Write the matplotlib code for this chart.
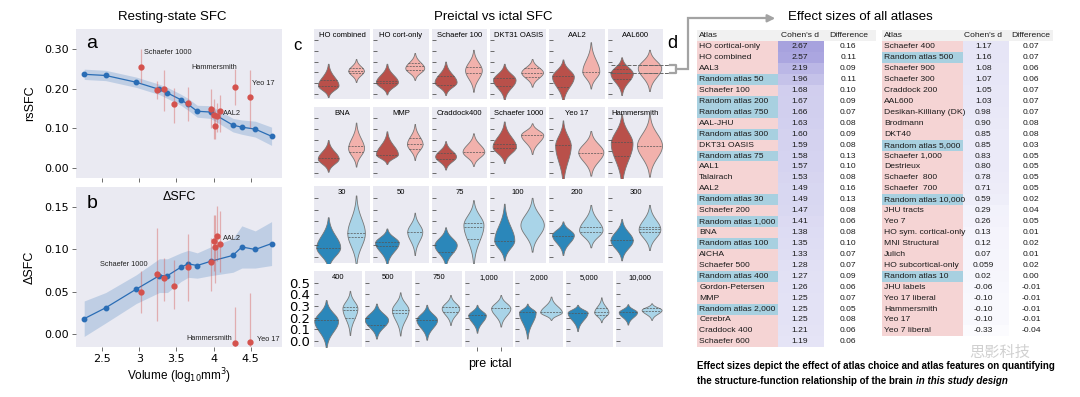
import numpy as np
import matplotlib
matplotlib.use("Agg")
import matplotlib.pyplot as plt
from matplotlib import font_manager
from matplotlib.colors import LinearSegmentedColormap, Normalize

plt.rcParams['font.family'] = ['Liberation Sans', 'DejaVu Sans']

# ---------------- data: panels a / b ----------------
vol_blue = [2.26, 2.55, 2.96, 3.27, 3.38, 3.56, 3.66, 3.78, 3.96, 4.26, 4.38, 4.56, 4.78]
rs_blue = [0.236, 0.233, 0.216, 0.198, 0.189, 0.172, 0.160, 0.143, 0.141, 0.108, 0.103, 0.098, 0.080]
rs_band = [0.013, 0.013, 0.013, 0.013, 0.014, 0.014, 0.015, 0.015, 0.016, 0.017, 0.018, 0.020, 0.023]
d_blue = [0.018, 0.031, 0.053, 0.069, 0.069, 0.079, 0.083, 0.081, 0.086, 0.093, 0.103, 0.100, 0.107]
d_band = [0.021, 0.018, 0.017, 0.020, 0.020, 0.017, 0.016, 0.015, 0.017, 0.020, 0.025, 0.022, 0.026]

vol_red = [3.02, 3.24, 3.33, 3.47, 3.66, 3.96, 4.01, 4.04, 4.02, 4.09, 4.29, 4.49]
rs_red = [0.254, 0.196, 0.198, 0.162, 0.165, 0.149, 0.133, 0.130, 0.105, 0.144, 0.205, 0.178]
rs_lo = [0.213, 0.173, 0.144, 0.114, 0.119, 0.100, 0.074, 0.090, 0.074, 0.091, 0.158, 0.100]
rs_hi = [0.299, 0.219, 0.247, 0.202, 0.203, 0.199, 0.175, 0.165, 0.146, 0.185, 0.249, 0.247]
d_red = [0.050, 0.071, 0.066, 0.057, 0.079, 0.085, 0.110, 0.116, 0.103, 0.106, -0.011, -0.009]
d_lo = [0.025, 0.015, 0.039, 0.029, 0.039, 0.051, 0.074, 0.086, 0.060, 0.073, -0.060, -0.060]
d_hi = [0.075, 0.126, 0.090, 0.088, 0.118, 0.114, 0.141, 0.152, 0.141, 0.146, 0.032, 0.049]

# ---------------- data: panel c (violin summaries) ----------------
vio_titles = ['HO combined', 'HO cort-only', 'Schaefer 100', 'DKT31 OASIS', 'AAL2', 'AAL600',
              'BNA', 'MMP', 'Craddock400', 'Schaefer 1000', 'Yeo 17', 'Hammersmith',
              '30', '50', '75', '100', '200', '300',
              '400', '500', '750', '1,000', '2,000', '5,000', '10,000']
pre_lo = [-0.03, -0.005, -0.01, -0.06, -0.08, -0.01,
          0.01, 0.08, 0.03, 0.09, -0.12, -0.12,
          -0.10, -0.07, -0.08, -0.03, 0.015, -0.03,
          -0.06, 0.02, 0.01, 0.07, 0.02, 0.085, 0.14]
pre_mode = [0.08, 0.11, 0.11, 0.13, 0.16, 0.19,
            0.13, 0.17, 0.15, 0.24, 0.25, 0.27,
            0.08, 0.12, 0.10, 0.14, 0.185, 0.14,
            0.17, 0.18, 0.18, 0.22, 0.245, 0.243, 0.246]
pre_hi = [0.28, 0.28, 0.30, 0.28, 0.32, 0.34,
          0.30, 0.38, 0.29, 0.47, 0.48, 0.54,
          0.335, 0.24, 0.25, 0.45, 0.30, 0.32,
          0.35, 0.32, 0.31, 0.31, 0.32, 0.31, 0.315]
pre_dens = [0.74, 0.79, 0.79, 0.81, 0.78, 0.80,
            0.75, 0.79, 0.75, 0.84, 0.56, 0.78,
            0.86, 0.85, 0.80, 0.72, 0.78, 0.80,
            1.00, 0.98, 0.87, 0.74, 0.70, 0.84, 0.77]
pre_lines = [[0.075, 0.13], [0.10, 0.12], [0.08, 0.165], [0.07, 0.145], [0.06, 0.17], [0.14, 0.19, 0.23],
             [0.133], [0.165], [0.13, 0.18], [0.225, 0.265], [0.255], [0.15, 0.28],
             [0.075], [0.09, 0.128], [0.043], [0.137], [0.18], [0.142],
             [0.177], [0.137], [0.18], [0.22], [0.245], [0.243], [0.246]]
ict_lo = [0.11, 0.13, 0.02, 0.067, 0.05, 0.027,
          0.057, 0.118, 0.063, 0.173, -0.026, -0.035,
          -0.08, 0.015, -0.07, 0.043, 0.08, 0.057,
          0.05, 0.046, 0.137, 0.123, 0.18, 0.16, 0.18]
ict_mode = [0.215, 0.24, 0.22, 0.20, 0.21, 0.24,
            0.225, 0.264, 0.194, 0.347, 0.19, 0.25,
            0.20, 0.213, 0.27, 0.27, 0.227, 0.233,
            0.28, 0.266, 0.28, 0.28, 0.246, 0.246, 0.266]
ict_hi = [0.325, 0.38, 0.41, 0.325, 0.48, 0.41,
          0.46, 0.447, 0.362, 0.454, 0.383, 0.53,
          0.52, 0.374, 0.48, 0.50, 0.44, 0.44,
          0.43, 0.417, 0.394, 0.394, 0.38, 0.374, 0.323]
ict_dens = [0.56, 0.68, 0.60, 0.78, 0.61, 0.84,
            0.57, 0.56, 0.78, 0.80, 0.90, 0.90,
            0.63, 0.54, 0.72, 0.84, 0.84, 0.78,
            0.63, 0.70, 0.74, 0.81, 0.91, 0.60, 0.84]
ict_lines = [[0.198, 0.216, 0.238], [0.22, 0.255, 0.285], [0.19, 0.25], [0.155, 0.198, 0.238], [0.20], [0.19, 0.27],
             [0.194, 0.25], [0.218, 0.264, 0.316], [0.194], [0.347], [0.179], [0.246],
             [0.165, 0.204], [0.213], [0.148, 0.25, 0.283], [], [0.207, 0.25], [0.213, 0.233, 0.25],
             [0.194, 0.266, 0.294], [0.237, 0.266], [0.246, 0.294], [0.28], [0.246], [0.223, 0.246, 0.28], [0.257, 0.28]]
row_sizes = [6, 6, 6, 7]

# ---------------- data: panel d (table) ----------------
left_atlas = ['HO cortical-only', 'HO combined', 'AAL3', 'Random atlas 50', 'Schaefer 100',
              'Random atlas 200', 'Random atlas 750', 'AAL-JHU', 'Random atlas 300', 'DKT31 OASIS',
              'Random atlas 75', 'AAL1', 'Talairach', 'AAL2', 'Random atlas 30', 'Schaefer 200',
              'Random atlas 1,000', 'BNA', 'Random atlas 100', 'AICHA', 'Schaefer 500',
              'Random atlas 400', 'Gordon-Petersen', 'MMP', 'Random atlas 2,000', 'CerebrA',
              'Craddock 400', 'Schaefer 600']
left_d = ['2.67', '2.57', '2.19', '1.96', '1.68', '1.67', '1.66', '1.63', '1.60', '1.59', '1.58',
          '1.57', '1.53', '1.49', '1.49', '1.47', '1.41', '1.38', '1.35', '1.33', '1.28', '1.27',
          '1.26', '1.25', '1.25', '1.25', '1.21', '1.19']
left_diff = ['0.16', '0.11', '0.09', '0.11', '0.10', '0.09', '0.07', '0.08', '0.09', '0.08', '0.13',
             '0.10', '0.08', '0.16', '0.13', '0.08', '0.06', '0.08', '0.10', '0.07', '0.07', '0.09',
             '0.06', '0.07', '0.05', '0.08', '0.06', '0.06']
right_atlas = ['Schaefer 400', 'Random atlas 500', 'Schaefer 900', 'Schaefer 300', 'Craddock 200',
               'AAL600', 'Desikan-Killiany (DK)', 'Brodmann', 'DKT40', 'Random atlas 5,000',
               'Schaefer 1,000', 'Destrieux', 'Schaefer  800', 'Schaefer  700', 'Random atlas 10,000',
               'JHU tracts', 'Yeo 7', 'HO sym. cortical-only', 'MNI Structural', 'Julich',
               'HO subcortical-only', 'Random atlas 10', 'JHU labels', 'Yeo 17 liberal',
               'Hammersmith', 'Yeo 17', 'Yeo 7 liberal']
right_d = ['1.17', '1.16', '1.08', '1.07', '1.05', '1.03', '0.98', '0.90', '0.85', '0.85', '0.83',
           '0.80', '0.78', '0.71', '0.59', '0.29', '0.26', '0.13', '0.12', '0.07', '0.059', '0.02',
           '-0.06', '-0.10', '-0.10', '-0.10', '-0.33']
right_diff = ['0.07', '0.07', '0.06', '0.06', '0.07', '0.07', '0.07', '0.08', '0.08', '0.03', '0.05',
              '0.05', '0.05', '0.05', '0.02', '0.04', '0.05', '0.01', '0.02', '0.01', '0.02', '0.00',
              '-0.01', '-0.01', '-0.01', '-0.01', '-0.04']

# ---------------- style ----------------
BG = '#eaeaf2'
BLUE = '#2a6db5'
RED = '#d4524d'
PAL_RED = ('#b9504a', '#f2b1ac')
PAL_BLUE = ('#2b87ba', '#a9d4e8')
PINK_CELL = '#f5d4d4'
BLUE_CELL = '#a8d0e0'

names = {f.name for f in font_manager.fontManager.ttflist}
if 'Liberation Sans Narrow' in names:
    TFONT, TSIZE = ['Liberation Sans Narrow', 'Liberation Sans'], 7.0
else:
    TFONT, TSIZE = ['Liberation Sans', 'DejaVu Sans'], 6.1

W, H = 1080, 397
fig = plt.figure(figsize=(W / 100, H / 100), dpi=100)


def px_axes(x0, y0, x1, y1, **kw):
    return fig.add_axes([x0 / W, 1 - y1 / H, (x1 - x0) / W, (y1 - y0) / H], **kw)


def ftext(x, y, s, **kw):
    return fig.text(x / W, 1 - y / H, s, **kw)


def clean(ax):
    ax.set_facecolor(BG)
    for sp in ax.spines.values():
        sp.set_visible(False)


# ---------------- panels a and b ----------------
ax_a = px_axes(76, 29, 282, 178)
ax_b = px_axes(76, 187, 282, 347)
for ax, yb, band, yr, lo, hi in [(ax_a, rs_blue, rs_band, rs_red, rs_lo, rs_hi),
                                 (ax_b, d_blue, d_band, d_red, d_lo, d_hi)]:
    clean(ax)
    xb = np.array(vol_blue)
    yb = np.array(yb)
    band = np.array(band)
    ax.fill_between(xb, yb - band, yb + band, color=BLUE, alpha=0.22, lw=0)
    ax.plot(xb, yb, '-o', color=BLUE, lw=0.9, ms=3.2, zorder=3)
    ax.vlines(vol_red, lo, hi, color=RED, alpha=0.4, lw=0.9, zorder=4)
    ax.plot(vol_red, yr, 'o', color=RED, ms=3.5, zorder=5, ls='none')
    ax.set_xlim(2.15, 4.92)
    ax.set_xticks([2.5, 3, 3.5, 4, 4.5])
    ax.tick_params(length=3, width=0.6, color='#555555', labelsize=8, pad=2)

ax_a.set_ylim(-0.025, 0.35)
ax_a.set_yticks([0, 0.1, 0.2, 0.3])
ax_a.set_yticklabels(['0.00', '0.10', '0.20', '0.30'], family='DejaVu Sans')
ax_a.set_xticklabels([])
ax_a.set_ylabel('rsSFC', fontsize=9, labelpad=6)
ax_b.set_ylim(-0.0155, 0.174)
ax_b.set_yticks([0, 0.05, 0.1, 0.15])
ax_b.set_yticklabels(['0.00', '0.05', '0.10', '0.15'], family='DejaVu Sans')
ax_b.set_xticklabels(['2.5', '3', '3.5', '4', '4.5'], family='DejaVu Sans')
ax_b.set_ylabel('ΔSFC', fontsize=9, labelpad=6)
ax_b.set_xlabel('Volume (log$_{10}$mm$^3$)', fontsize=8.5, labelpad=2)

ann = dict(fontsize=5.3, color='#222222', va='center')
ax_a.text(3.06, 0.292, 'Schaefer 1000', **ann)
ax_a.text(3.70, 0.254, 'Hammersmith', **ann)
ax_a.text(4.52, 0.214, 'Yeo 17', **ann)
ax_a.text(4.13, 0.138, 'AAL2', **ann)
ax_b.text(2.47, 0.082, 'Schaefer 1000', **ann)
ax_b.text(4.13, 0.113, 'AAL2', **ann)
ax_b.text(3.64, -0.006, 'Hammersmith', **ann)
ax_b.text(4.58, -0.007, 'Yeo 17', **ann)
ax_a.text(0.05, 0.9, 'a', transform=ax_a.transAxes, fontsize=14, va='center')
ax_b.text(0.05, 0.9, 'b', transform=ax_b.transAxes, fontsize=14, va='center')
ax_b.text(0.5, 0.9375, 'ΔSFC', transform=ax_b.transAxes, fontsize=9, ha='center', va='center')
ftext(172, 17, 'Resting-state SFC', fontsize=9.5, ha='center', va='center')


# ---------------- panel c ----------------
def violin(ax, pos, lo, mode, hi, dens, lines, color):
    ys = np.linspace(lo, hi, 150)
    sig = np.where(ys < mode, (mode - lo) / 2.6, (hi - mode) / 2.6)
    half = dens / 2 * np.exp(-0.5 * ((ys - mode) / sig) ** 2)
    ax.fill_betweenx(ys, pos - half, pos + half, facecolor=color, edgecolor='#777777', lw=0.6)
    for q in lines:
        h = np.interp(q, ys, half)
        ax.plot([pos - h, pos + h], [q, q], ls=(0, (3, 1.5)), lw=0.5, color='#555555')


row_tops = [29.3, 107.3, 186, 271]
row_bots = [99.3, 178.3, 262.7, 346.7]
k = 0
for r, ncol in enumerate(row_sizes):
    if ncol == 6:
        pitch, wcell = 58.68, 55.7
    else:
        pitch, wcell = 50.28, 47.5
    pal = PAL_RED if r < 2 else PAL_BLUE
    for c in range(ncol):
        x0 = 314.3 + c * pitch
        ax = px_axes(x0, row_tops[r], x0 + wcell, row_bots[r])
        clean(ax)
        violin(ax, 0, pre_lo[k], pre_mode[k], pre_hi[k], pre_dens[k], pre_lines[k], pal[0])
        violin(ax, 1, ict_lo[k], ict_mode[k], ict_hi[k], ict_dens[k], ict_lines[k], pal[1])
        ax.set_xlim(-0.5, 1.5)
        ax.set_ylim(-0.05, 0.6)
        ax.set_yticks(np.arange(0, 0.51, 0.1))
        ax.tick_params(axis='y', direction='in', length=3, width=0.6, color='#555555', pad=3,
                       labelsize=9.5)
        if r == 3 and c == 0:
            ax.set_yticklabels(['0.0', '0.1', '0.2', '0.3', '0.4', '0.5'], family='DejaVu Sans')
        else:
            ax.set_yticklabels([])
        if r == 3 and c == 3:
            ax.set_xticks([0, 1])
            ax.set_xticklabels(['pre', 'ictal'], fontsize=9)
            ax.tick_params(axis='x', length=3, width=0.6, color='#555555', pad=5)
        else:
            ax.set_xticks([])
        ax.text(0.5, 1 - 6.5 / (row_bots[r] - row_tops[r]), vio_titles[k], transform=ax.transAxes,
                ha='center', va='center', fontsize=5.5)
        k += 1

ftext(493, 17, 'Preictal vs ictal SFC', fontsize=9.5, ha='center', va='center')
ftext(297, 45, 'c', fontsize=12, ha='center', va='center')

# ---------------- panel d ----------------
cmap = LinearSegmentedColormap.from_list('pur', ['#fbfbfe', '#e6e5f6', '#a7a2de'])
norm = Normalize(-0.33, 2.67)


def table(ax, atlas, dvals, diffs, wtot, d_x, diff_x):
    ax.axis('off')
    rows = np.arange(len(atlas))
    cells = [BLUE_CELL if a.startswith('Random') else PINK_CELL for a in atlas]
    ax.barh([-1], wtot, left=0, height=1.0, color='#f1f1f1')
    ax.barh(rows, 81, left=0, height=1.0, color=cells)
    ax.barh(rows, 46.6, left=81, height=1.0, color=cmap(norm(np.array(dvals, dtype=float))))
    tk = dict(fontsize=TSIZE, family=TFONT, va='center', color='#1a1a1a')
    ax.text(2.5, -1, 'Atlas', **tk)
    ax.text(d_x, -1, "Cohen's d", ha='center', **tk)
    ax.text(diff_x, -1, 'Difference', ha='center', **tk)
    for i in rows:
        ax.text(2.5, i, atlas[i], **tk)
        ax.text(d_x, i, dvals[i], ha='center', **tk)
        ax.text(diff_x, i, diffs[i], ha='center', **tk)
    ax.set_xlim(0, wtot)
    ax.set_ylim(27.5, -1.5)


ax_t1 = px_axes(696.7, 30.3, 876, 347.3)
table(ax_t1, left_atlas, left_d, left_diff, 179.3, 103.3, 151.6)
ax_t2 = px_axes(881.7, 30.3, 1053, 347.3)
table(ax_t2, right_atlas, right_d, right_diff, 171.3, 101.6, 149.3)

ftext(860, 17, 'Effect sizes of all atlases', fontsize=9.5, ha='center', va='center')
ftext(672, 43, 'd', fontsize=13, ha='center', va='center')

# caption, scaled to the reference line width
cap_font = ['Liberation Sans Narrow', 'Liberation Sans'] if 'Liberation Sans Narrow' in names \
    else ['Liberation Sans', 'DejaVu Sans']
cap1 = ftext(697, 366, 'Effect sizes depict the effect of atlas choice and atlas features on quantifying',
             fontsize=8, weight='bold', family=cap_font, va='center')
cap2 = ftext(697, 381, 'the structure-function relationship of the brain ', fontsize=8, weight='bold',
             family=cap_font, va='center')
rend = fig.canvas.get_renderer()
scale = 358 / cap1.get_window_extent(rend).width
cap1.set_fontsize(8 * scale)
cap2.set_fontsize(8 * scale)
bb = cap2.get_window_extent(rend)
ftext(697 + bb.width, 381, 'in this study design', fontsize=8 * scale, weight='bold', style='italic',
      family=cap_font, va='center')

# ---------------- connector arrow and watermark ----------------
ov = fig.add_axes([0, 0, 1, 1], zorder=10)
ov.set_xlim(0, W)
ov.set_ylim(H, 0)
ov.axis('off')
ov.plot([611, 671], [65, 65], color='#666666', ls=(0, (4, 1.5)), lw=0.7)
ov.plot([611, 671], [72.7, 72.7], color='#666666', ls=(0, (4, 1.5)), lw=0.7)
ov.plot([670, 675.5, 675.5, 670], [65, 65, 72.7, 72.7], color='#a3a3a3', lw=1.6)
ov.plot([675.5, 688, 688, 768], [69, 69, 18.3, 18.3], color='#a3a3a3', lw=1.6,
        solid_joinstyle='miter')
ov.annotate('', xy=(778, 18.3), xytext=(766, 18.3),
            arrowprops=dict(arrowstyle='-|>', color='#a3a3a3', lw=1.6, mutation_scale=11))
ov.text(1000, 352, '思影科技', fontsize=11, color='#c8c8c8', alpha=0.85,
        family=['Noto Sans CJK SC', 'DejaVu Sans'], ha='center', va='center')

fig.savefig('out.png', dpi=100)
